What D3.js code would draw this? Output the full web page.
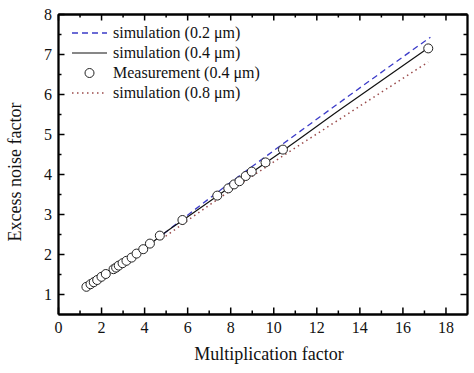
<!DOCTYPE html>
<html>
<head>
<meta charset="utf-8">
<style>
  body { margin: 0; background: #fff; }
  text { font-family: "Liberation Serif", "Times New Roman", serif; }
  .axis path, .axis line { stroke: #000; }
</style>
</head>
<body>
<svg width="474" height="373"></svg>
<script src="https://d3js.org/d3.v7.min.js"></script>
<script>
// measurement (0.4 um)
const measM = [1.32, 1.51, 1.66, 1.82, 2.02, 2.22, 2.58, 2.70, 2.82, 3.00, 3.18, 3.42, 3.65, 3.96, 4.27, 4.73,
               5.78, 7.40, 7.91, 8.18, 8.43, 8.72, 9.00, 9.64, 10.45, 17.20];
const measF = [1.18, 1.245, 1.295, 1.35, 1.43, 1.50, 1.62, 1.66, 1.71, 1.77, 1.83, 1.91, 2.01, 2.12, 2.26, 2.46,
               2.85, 3.46, 3.64, 3.74, 3.82, 3.95, 4.06, 4.29, 4.61, 7.14];

// simulations, values
const sim02M = [4.9, 7.4, 10.47, 13.27, 17.3];
const sim02F = [2.50, 3.54, 4.76, 5.86, 7.42];
const sim04M = [1.3, 2.0, 3.0, 4.0, 4.73, 5.78, 7.4, 10.47, 13.11, 17.2];
const sim04F = [1.18, 1.43, 1.77, 2.13, 2.44, 2.84, 3.45, 4.59, 5.61, 7.15];
const sim08M = [4.81, 7.4, 10.47, 13.11, 17.2];
const sim08F = [2.37, 3.36, 4.46, 5.38, 6.80];

const xTicks = [0, 2, 4, 6, 8, 10, 12, 14, 16, 18];
const yTicks = [1, 2, 3, 4, 5, 6, 7, 8];
const legendLabels = ["simulation (0.2 \u03bcm)", "simulation (0.4 \u03bcm)", "Measurement (0.4 \u03bcm)", "simulation (0.8 \u03bcm)"];

const FONT = "'Liberation Serif', 'Times New Roman', serif";
const svg = d3.select("svg");
const m = {left: 58, right: 7, top: 14, bottom: 59};
const W = 474, H = 373;

const x = d3.scaleLinear().domain([0, 19]).range([m.left, W - m.right]);
const y = d3.scaleLinear().domain([0.5, 8]).range([H - m.bottom, m.top]);

const xMinor = d3.range(1, 19, 2);
const yMinor = d3.range(1.5, 8, 1);

function ax(axis, tx, ty) {
  return svg.append("g").attr("class", "axis")
    .attr("transform", `translate(${tx},${ty})`)
    .call(axis);
}

// minor ticks
ax(d3.axisBottom(x).tickValues(xMinor).tickSizeInner(-3.5).tickSizeOuter(0).tickFormat(""), 0, y(0.5));
ax(d3.axisTop(x).tickValues(xMinor).tickSizeInner(-3.5).tickSizeOuter(0).tickFormat(""), 0, y(8));
ax(d3.axisLeft(y).tickValues(yMinor).tickSizeInner(-3.5).tickSizeOuter(0).tickFormat(""), x(0), 0);
ax(d3.axisRight(y).tickValues(yMinor).tickSizeInner(-3.5).tickSizeOuter(0).tickFormat(""), x(19), 0);

// major ticks
ax(d3.axisBottom(x).tickValues(xTicks).tickSizeInner(-6.5).tickSizeOuter(0).tickPadding(8), 0, y(0.5));
ax(d3.axisTop(x).tickValues(xTicks).tickSizeInner(-6.5).tickSizeOuter(0).tickFormat(""), 0, y(8));
ax(d3.axisLeft(y).tickValues(yTicks).tickSizeInner(-6.5).tickSizeOuter(0).tickPadding(6), x(0), 0);
ax(d3.axisRight(y).tickValues(yTicks).tickSizeInner(-6.5).tickSizeOuter(0).tickFormat(""), x(19), 0);

svg.selectAll(".axis line").attr("stroke-width", 1.5);
svg.selectAll(".axis path").attr("stroke-width", 1.8);
svg.selectAll(".axis text")
  .style("font-family", FONT).style("font-size", "16px").attr("fill", "#111");

// axis titles
svg.append("text").attr("x", 269).attr("y", 360).attr("text-anchor", "middle")
  .style("font-size", "18px").attr("fill", "#111").text("Multiplication factor");
svg.append("text").attr("transform", "translate(21,172) rotate(-90)").attr("text-anchor", "middle")
  .style("font-size", "18px").attr("fill", "#111").text("Excess noise factor");

const line = d3.line().x(d => x(d[0])).y(d => y(d[1])).curve(d3.curveMonotoneX);
const styles = [
  {stroke: "#3b3bc8", dash: "6,4", w: 1.3},
  {stroke: "#111", dash: null, w: 1.2},
  null,
  {stroke: "#9a4a4a", dash: "1.5,3.5", w: 1.5}
];

const sims = [d3.zip(sim02M, sim02F), d3.zip(sim04M, sim04F), null, d3.zip(sim08M, sim08F)];
sims.forEach((s, i) => {
  if (!s) return;
  svg.append("path").datum(s).attr("d", line).attr("fill", "none")
    .attr("stroke", styles[i].stroke).attr("stroke-width", styles[i].w)
    .attr("stroke-dasharray", styles[i].dash);
});

svg.append("g").selectAll("circle").data(d3.zip(measM, measF)).join("circle")
  .attr("cx", d => x(d[0])).attr("cy", d => y(d[1])).attr("r", 4.5)
  .attr("fill", "#fff").attr("stroke", "#222").attr("stroke-width", 1);

// legend
const lg = svg.append("g");
legendLabels.forEach((lab, i) => {
  const ly = 33 + i * 20;
  if (styles[i]) {
    lg.append("line").attr("x1", 72).attr("x2", 107).attr("y1", ly).attr("y2", ly)
      .attr("stroke", styles[i].stroke).attr("stroke-width", styles[i].w)
      .attr("stroke-dasharray", styles[i].dash);
  } else {
    lg.append("circle").attr("cx", 89.5).attr("cy", ly).attr("r", 4.5)
      .attr("fill", "#fff").attr("stroke", "#222").attr("stroke-width", 1);
  }
  lg.append("text").attr("x", 113).attr("y", ly + 5).style("font-size", "16px")
    .attr("fill", "#111").text(lab);
});
</script>
</body>
</html>
